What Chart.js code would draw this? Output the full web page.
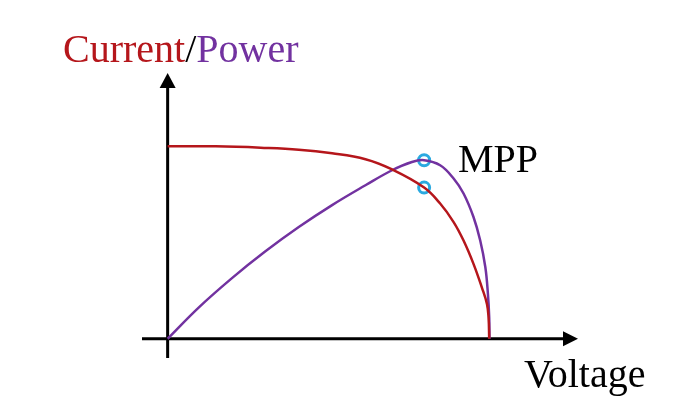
<!DOCTYPE html>
<html>
<head>
<meta charset="utf-8">
<script src="https://cdn.jsdelivr.net/npm/chart.js@4/dist/chart.umd.min.js"></script>
<style>
  html, body { margin: 0; padding: 0; background: #fff; }
  canvas { display: block; }
</style>
</head>
<body>
<canvas id="iv-chart" width="688" height="414"></canvas>
<script>
// normalised voltage (Voc = 1) and current / power (Isc = 1)
const currentVoltage = [0, 0.15, 0.29, 0.409, 0.513, 0.617, 0.700, 0.80, 0.85, 0.892, 0.923, 0.954, 0.980, 0.996, 1.001, 1.003];
const currentValues = [1.0, 0.999, 0.992, 0.982, 0.963, 0.932, 0.879, 0.785, 0.702, 0.606, 0.510, 0.389, 0.267, 0.181, 0.111, 0];

const powerVoltage = [0, 0.0975, 0.2016, 0.305, 0.409, 0.513, 0.617, 0.700, 0.762, 0.80, 0.85, 0.892, 0.923, 0.954, 0.975, 0.991, 0.999, 1.003, 1.004];
const powerValues = [0, 0.163, 0.316, 0.454, 0.580, 0.694, 0.797, 0.875, 0.918, 0.927, 0.901, 0.832, 0.754, 0.632, 0.510, 0.371, 0.233, 0.111, 0];

const mppVoltage = [0.80, 0.80];
const mppValues = [0.927, 0.785];

const RED = "#b5161b";
const PURPLE = "#7232a0";
const BLUE = "#2aa9e0";
const FONT = '40px "Liberation Serif", "Times New Roman", serif';

function toPoints(xs, ys) {
  return xs.map(function (x, i) {
    return { x: x, y: ys[i] };
  });
}

// axes with arrow heads, drawn through the scales
const axesPlugin = {
  id: "axesArrows",
  beforeDatasetsDraw: function (chart) {
    const ctx = chart.ctx;
    const xs = chart.scales.x;
    const ys = chart.scales.y;
    const x0 = xs.getPixelForValue(0);
    const y0 = ys.getPixelForValue(0);

    ctx.save();
    ctx.strokeStyle = "#000";
    ctx.fillStyle = "#000";
    ctx.lineWidth = 3;

    ctx.beginPath();
    ctx.moveTo(xs.left, y0);
    ctx.lineTo(xs.right - 10, y0);
    ctx.moveTo(x0, ys.bottom);
    ctx.lineTo(x0, ys.top + 10);
    ctx.stroke();

    ctx.beginPath();
    ctx.moveTo(xs.right, y0);
    ctx.lineTo(xs.right - 15, y0 - 7.5);
    ctx.lineTo(xs.right - 15, y0 + 7.5);
    ctx.closePath();
    ctx.fill();

    ctx.beginPath();
    ctx.moveTo(x0, ys.top);
    ctx.lineTo(x0 - 8, ys.top + 15);
    ctx.lineTo(x0 + 8, ys.top + 15);
    ctx.closePath();
    ctx.fill();
    ctx.restore();
  },
  afterDraw: function (chart) {
    const ctx = chart.ctx;
    ctx.save();
    ctx.font = FONT;
    ctx.textBaseline = "alphabetic";
    ctx.textAlign = "left";

    let x = 63;
    ctx.fillStyle = RED;
    ctx.fillText("Current", x, 62);
    x += ctx.measureText("Current").width;
    ctx.fillStyle = "#000";
    ctx.fillText("/", x, 62);
    x += ctx.measureText("/").width;
    ctx.fillStyle = PURPLE;
    ctx.fillText("Power", x, 62);

    ctx.fillStyle = "#000";
    ctx.fillText("MPP", 458, 172);
    ctx.fillText("Voltage", 524, 387);
    ctx.restore();
  },
};

new Chart(document.getElementById("iv-chart"), {
  type: "scatter",
  data: {
    datasets: [
      {
        label: "Current",
        data: toPoints(currentVoltage, currentValues),
        showLine: true,
        borderColor: RED,
        borderWidth: 2.5,
        pointRadius: 0,
        tension: 0.4,
        clip: false,
      },
      {
        label: "Power",
        data: toPoints(powerVoltage, powerValues),
        showLine: true,
        borderColor: PURPLE,
        borderWidth: 2.5,
        pointRadius: 0,
        tension: 0.4,
        clip: false,
      },
      {
        label: "MPP",
        data: toPoints(mppVoltage, mppValues),
        showLine: false,
        pointRadius: 5.5,
        pointBorderWidth: 3,
        pointBorderColor: BLUE,
        pointBackgroundColor: "rgba(255,255,255,0)",
        clip: false,
      },
    ],
  },
  options: {
    responsive: false,
    animation: false,
    layout: {
      padding: { left: 142, right: 110, top: 73, bottom: 56 },
    },
    scales: {
      x: { type: "linear", min: -0.08, max: 1.28, display: false },
      y: { type: "linear", min: -0.1, max: 1.38, display: false },
    },
    plugins: {
      legend: { display: false },
      tooltip: { enabled: false },
    },
  },
  plugins: [axesPlugin],
});
</script>
</body>
</html>
